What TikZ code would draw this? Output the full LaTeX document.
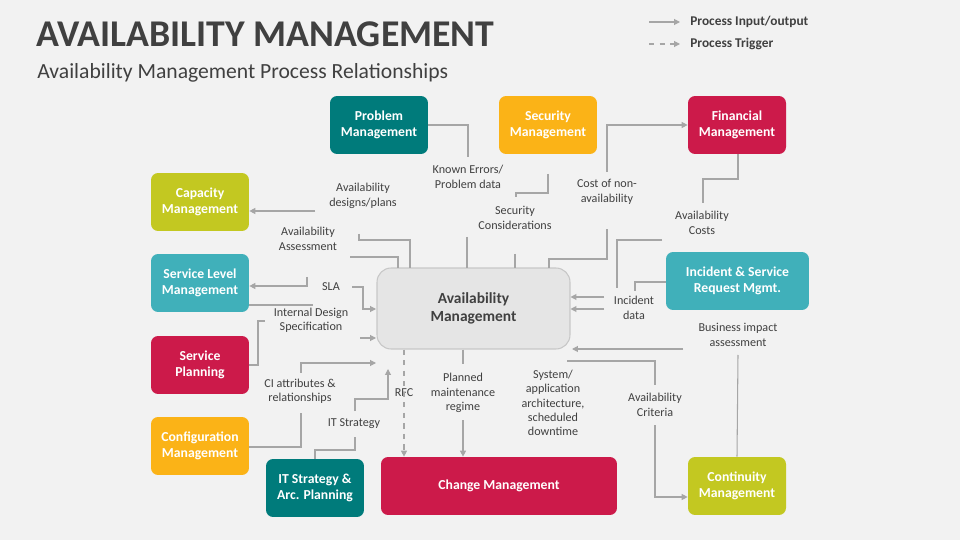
\documentclass[tikz,border=0pt]{standalone}
\usepackage{fontspec}
\setmainfont{Carlito}
\usetikzlibrary{arrows.meta}
\definecolor{bg}{HTML}{F2F2F2}
\definecolor{teal}{HTML}{007B7B}
\definecolor{amber}{HTML}{FBB317}
\definecolor{crim}{HTML}{CC1A4A}
\definecolor{lime}{HTML}{C3C821}
\definecolor{aqua}{HTML}{40B0BA}
\definecolor{ln}{HTML}{A6A6A6}
\definecolor{tx}{HTML}{404040}
\begin{document}
\begin{tikzpicture}[x=0.02cm,y=-0.02cm,
  box/.style={rounded corners=4pt,minimum width=1.96cm,minimum height=1.16cm,text=white,font=\fontsize{7.8}{9}\selectfont\bfseries,align=center,inner sep=1pt},
  lbl/.style={font=\fontsize{6.9}{8.2}\selectfont,text=tx,align=center,inner sep=1pt},
  con/.style={draw=ln,line width=0.6pt},
  arr/.style={con,-{Triangle[width=3.4pt,length=3.4pt]}}]
\fill[bg] (0,0) rectangle (960,540);
\useasboundingbox (0,0) rectangle (960,540);
\node[anchor=west,text=tx,font=\fontsize{21.5}{24}\selectfont\bfseries,inner sep=0] (title) at (36,34) {AVAILABILITY MANAGEMENT};
\node[anchor=west,text=tx,font=\fontsize{12.3}{14}\selectfont,inner sep=0] (sub) at (37,73) {Availability Management Process Relationships};
% legend
\coordinate (l1a) at (649,22); \coordinate (l1b) at (680,22);
\coordinate (l2a) at (649,44); \coordinate (l2b) at (680,44);
\draw[arr] (l1a) -- (l1b);
\draw[arr,dashed] (l2a) -- (l2b);
\node[anchor=west,text=tx,font=\fontsize{7.6}{9}\selectfont\bfseries,inner sep=0] (lg1) at (690,22) {Process Input/output};
\node[anchor=west,text=tx,font=\fontsize{7.6}{9}\selectfont\bfseries,inner sep=0] (lg2) at (690,44) {Process Trigger};
% boxes
\node[box,fill=teal] (prob) at (379,125) {Problem\\Management};
\node[box,fill=amber] (sec) at (548,125) {Security\\Management};
\node[box,fill=crim] (fin) at (737,125) {Financial\\Management};
\node[box,fill=lime] (cap) at (200,202) {Capacity\\Management};
\node[box,fill=aqua] (slm) at (200,283) {Service Level\\Management};
\node[box,fill=crim] (sp) at (200,365) {Service\\Planning};
\node[box,fill=amber] (cfg) at (200,446) {Configuration\\Management};
\node[box,fill=teal] (its) at (315,488) {IT Strategy \&\\Arc. Planning};
\node[box,fill=crim,minimum width=4.72cm] (chg) at (499,486) {Change Management};
\node[box,fill=aqua,minimum width=2.86cm] (inc) at (737.5,281) {Incident \& Service\\Request Mgmt.};
\node[box,fill=lime] (cont) at (737,486) {Continuity\\Management};
\node[rounded corners=8pt,fill=black!10,draw=black!22,line width=0.6pt,minimum width=3.86cm,minimum height=1.62cm,text=tx,font=\fontsize{8.8}{10.5}\selectfont\bfseries,align=center] (am) at (473.5,308.5) {Availability\\Management};
% labels
\node[lbl] (t1) at (363,196) {Availability\\designs/plans};
\node[lbl] (t2) at (468,177) {Known Errors/\\Problem data};
\node[lbl] (t3) at (515,218) {Security\\Considerations};
\node[lbl] (t4) at (607,192) {Cost of non-\\availability};
\node[lbl] (t5) at (702,223) {Availability\\Costs};
\node[lbl] (t6) at (308,239) {Availability\\Assessment};
\node[lbl] (t7) at (331,287) {SLA};
\node[lbl] (t8) at (311,320) {Internal Design\\Specification};
\node[lbl] (t9) at (300,391) {CI attributes \&\\relationships};
\node[lbl] (t10) at (354,424) {IT Strategy};
\node[lbl] (t11) at (404,393) {RFC};
\node[lbl] (t12) at (463,393) {Planned\\maintenance\\regime};
\node[lbl] (t13) at (553,403) {System/\\application\\architecture,\\scheduled\\downtime};
\node[lbl] (t14) at (634,308) {Incident\\data};
\node[lbl] (t15) at (738,335) {Business impact\\assessment};
\node[lbl] (t16) at (655,405) {Availability\\Criteria};
% connectors
\coordinate (c1) at (315,211);
\draw[arr] (c1) -- (cap.east |- c1);
\coordinate (c2) at (359,234);
\draw[con] (c2) |- (410,240) -- (410,268);
\coordinate (c3) at (350,257);
\draw[con] (c3) -| (398,268);
\draw[con] (prob.east |- 0,125) -| (468,157);
\draw[con] (467,237) -- (467,268);
\draw[con] (548,174) |- (516,193) -- (516,197);
\draw[con] (515,254) -- (515,268);
\draw[con] (549,268) |- (607,259) -- (607,229);
\draw[arr] (607,172) |- (fin.west |- 0,125);
\draw[con] (fin.south -| 738,0) |- (703,179) -- (703,203);
\draw[con] (662,240) -| (617,288);
\draw[arr] (604,297) -- (am.east |- 0,297);
\draw[arr] (604,309) -- (am.east |- 0,309);
\draw[con] (inc.west |- 0,282) -| (635,291);
\draw[con] (cont.north) -- (738,355);
\draw[arr] (683,349) -- (572,349);
\draw[con] (567,361) -| (655,385);
\draw[arr] (655,425) |- (cont.west |- 0,497);
\draw[con] (am.south -| 463,0) -- (463,364);
\draw[arr] (463,420) -- (chg.north -| 463,0);
\draw[arr,dashed] (am.south -| 404,0) -- (chg.north -| 404,0);
\draw[con] (its.north) |- (355,450) -- (355,437);
\draw[arr] (355,411) |- (388,399) -- (388,369);
\draw[con] (cfg.east |- 0,447) -| (301,413);
\draw[arr] (301,373) |- (376,363);
\draw[con] (sp.east |- 0,365) -| (258,321) -- (265,321);
\draw[arr] (360,338) -- (376,338);
\draw[con] (slm.east |- 0,305) -- (313,305);
\draw[arr] (307,277) |- (slm.east |- 0,286);
\draw[arr] (352,287) -| (363,309) -- (376,309);
\end{tikzpicture}
\end{document}
